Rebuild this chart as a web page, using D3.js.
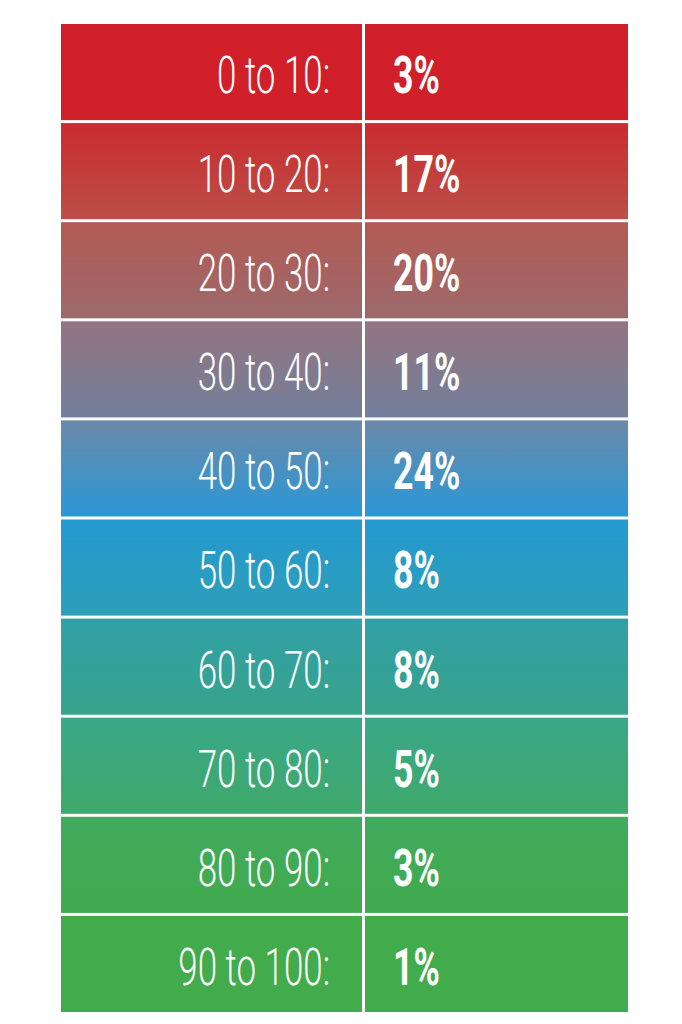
<!DOCTYPE html>
<html>
<meta charset="UTF-8" />
<script src="https://cdn.jsdelivr.net/npm/d3@7/dist/d3.min.js"></script>
<style>
*{margin:0; padding:0;}
body{background:#ffffff;}
</style>
<body>
<div id="chart"></div>
<script>
// ranges and share of each
var ranges = ["0 to 10:", "10 to 20:", "20 to 30:", "30 to 40:", "40 to 50:",
	"50 to 60:", "60 to 70:", "70 to 80:", "80 to 90:", "90 to 100:"];
var shares = [3, 17, 20, 11, 24, 8, 8, 5, 3, 1];

// row colours, top and bottom of each gradient
var topColors = ["#d11f29", "#cb2b2e", "#b35a53", "#937580", "#6b89aa",
	"#2399d0", "#32a0a8", "#3aa788", "#40aa5e", "#42ab4b"];
var bottomColors = ["#d02029", "#bb4f48", "#9c6a6c", "#737f9c", "#2a98d6",
	"#2e9fb8", "#37a38a", "#3fa96a", "#41aa4d", "#42ab4b"];

var width = 682, height = 1024;
var svg = d3.select("#chart").append("svg")
	.attr("width", width)
	.attr("height", height);

var y = d3.scaleBand()
	.domain(ranges)
	.range([24, 1012])
	.paddingInner(0.03)
	.paddingOuter(0);

var left = 61, mid = 363.5, right = 628, gap = 3;

var defs = svg.append("defs");
ranges.forEach(function(d, i) {
	var g = defs.append("linearGradient")
		.attr("id", "grad" + i)
		.attr("x1", 0).attr("y1", 0).attr("x2", 0).attr("y2", 1);
	g.append("stop").attr("offset", "0%").attr("stop-color", topColors[i]);
	g.append("stop").attr("offset", "100%").attr("stop-color", bottomColors[i]);
});

var rows = svg.selectAll("g.row")
	.data(ranges)
	.enter().append("g")
	.attr("class", "row")
	.attr("transform", function(d) { return "translate(0," + y(d) + ")"; });

// left cell
rows.append("rect")
	.attr("x", left)
	.attr("y", 0)
	.attr("width", mid - gap / 2 - left)
	.attr("height", y.bandwidth())
	.attr("fill", function(d, i) { return "url(#grad" + i + ")"; });

// right cell
rows.append("rect")
	.attr("x", mid + gap / 2)
	.attr("y", 0)
	.attr("width", right - mid - gap / 2)
	.attr("height", y.bandwidth())
	.attr("fill", function(d, i) { return "url(#grad" + i + ")"; });

var base = 69;

rows.append("text")
	.attr("transform", "translate(330," + base + ") scale(0.685,1)")
	.attr("text-anchor", "end")
	.style("font-family", "Roboto, 'Liberation Sans Narrow', sans-serif")
	.style("font-weight", 300)
	.style("font-size", "51px")
	.style("fill", "#ffffff")
	.text(function(d) { return d; });

rows.append("text")
	.attr("transform", "translate(393," + base + ") scale(0.7,1)")
	.attr("text-anchor", "start")
	.style("font-family", "Roboto, 'Liberation Sans Narrow', sans-serif")
	.style("font-weight", 700)
	.style("font-size", "51px")
	.style("fill", "#ffffff")
	.text(function(d, i) { return shares[i] + "%"; });
</script>
</body>
</html>
